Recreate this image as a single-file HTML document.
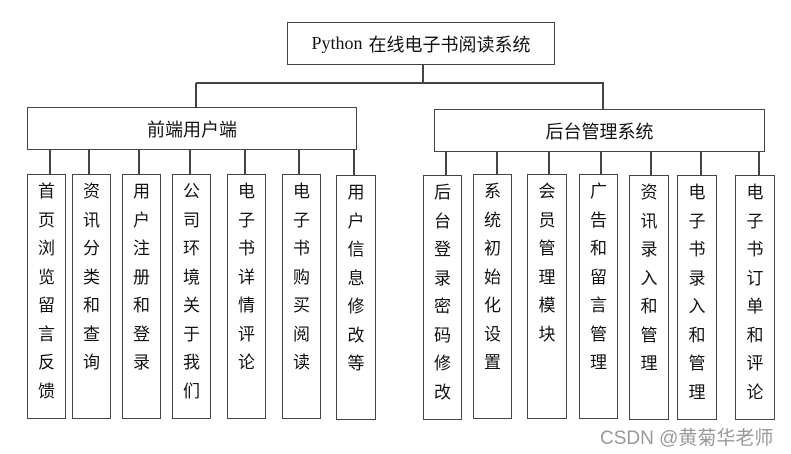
<!DOCTYPE html>
<html><head><meta charset="utf-8"><style>
body{margin:0;background:#fff;}
.c{position:relative;width:791px;height:454px;overflow:hidden;font-family:"Liberation Serif","Noto Sans CJK SC",sans-serif;color:#111;}
.b{position:absolute;border:1.5px solid #444;box-sizing:border-box;background:#fff;}
.h{display:flex;align-items:center;justify-content:center;font-size:18px;}
.v{font-size:17px;line-height:28.5px;text-align:center;padding-top:1px;font-family:"Noto Sans CJK SC",sans-serif;}
.l{position:absolute;background:#444;}
</style></head><body><div class="c">
<div class="b h" style="left:287px;top:22px;width:268px;height:43px;">Python <span style="font-family:'Noto Sans CJK SC',sans-serif;margin-left:6px">在线电子书阅读系统</span></div>
<div class="l" style="left:422px;top:64px;width:2px;height:20px"></div>
<div class="l" style="left:196px;top:82px;width:408px;height:2px"></div>
<div class="l" style="left:195px;top:83px;width:2px;height:25px"></div>
<div class="l" style="left:602px;top:83px;width:2px;height:27px"></div>
<div class="b h" style="left:27px;top:107px;width:330px;height:43px;font-family:'Noto Sans CJK SC',sans-serif">前端用户端</div>
<div class="b h" style="left:434px;top:109px;width:331px;height:43px;font-family:'Noto Sans CJK SC',sans-serif">后台管理系统</div>
<div class="l" style="left:49px;top:150px;width:2px;height:25px"></div>
<div class="l" style="left:88px;top:150px;width:2px;height:25px"></div>
<div class="l" style="left:138px;top:150px;width:2px;height:25px"></div>
<div class="l" style="left:189px;top:150px;width:2px;height:25px"></div>
<div class="l" style="left:244px;top:150px;width:2px;height:25px"></div>
<div class="l" style="left:298px;top:150px;width:2px;height:25px"></div>
<div class="l" style="left:353px;top:150px;width:2px;height:25px"></div>
<div class="l" style="left:445px;top:152px;width:2px;height:24px"></div>
<div class="l" style="left:496px;top:152px;width:2px;height:24px"></div>
<div class="l" style="left:548px;top:152px;width:2px;height:24px"></div>
<div class="l" style="left:600px;top:152px;width:2px;height:24px"></div>
<div class="l" style="left:650px;top:152px;width:2px;height:24px"></div>
<div class="l" style="left:700px;top:152px;width:2px;height:24px"></div>
<div class="l" style="left:758px;top:152px;width:2px;height:24px"></div>
<div class="b v" style="left:27px;top:174px;width:39px;height:245px">首<br>页<br>浏<br>览<br>留<br>言<br>反<br>馈</div>
<div class="b v" style="left:72px;top:174px;width:39px;height:245px">资<br>讯<br>分<br>类<br>和<br>查<br>询</div>
<div class="b v" style="left:122px;top:174px;width:39px;height:245px">用<br>户<br>注<br>册<br>和<br>登<br>录</div>
<div class="b v" style="left:172px;top:174px;width:39px;height:245px">公<br>司<br>环<br>境<br>关<br>于<br>我<br>们</div>
<div class="b v" style="left:227px;top:174px;width:39px;height:245px">电<br>子<br>书<br>详<br>情<br>评<br>论</div>
<div class="b v" style="left:282px;top:174px;width:39px;height:245px">电<br>子<br>书<br>购<br>买<br>阅<br>读</div>
<div class="b v" style="left:336px;top:175px;width:40px;height:245px">用<br>户<br>信<br>息<br>修<br>改<br>等</div>
<div class="b v" style="left:423px;top:175px;width:39px;height:245px">后<br>台<br>登<br>录<br>密<br>码<br>修<br>改</div>
<div class="b v" style="left:473px;top:174px;width:39px;height:245px">系<br>统<br>初<br>始<br>化<br>设<br>置</div>
<div class="b v" style="left:527px;top:174px;width:40px;height:245px">会<br>员<br>管<br>理<br>模<br>块</div>
<div class="b v" style="left:579px;top:174px;width:39px;height:245px">广<br>告<br>和<br>留<br>言<br>管<br>理</div>
<div class="b v" style="left:629px;top:175px;width:40px;height:245px">资<br>讯<br>录<br>入<br>和<br>管<br>理</div>
<div class="b v" style="left:677px;top:175px;width:40px;height:245px">电<br>子<br>书<br>录<br>入<br>和<br>管<br>理</div>
<div class="b v" style="left:735px;top:175px;width:40px;height:245px">电<br>子<br>书<br>订<br>单<br>和<br>评<br>论</div>
<div style="position:absolute;left:600px;top:423px;font-size:19px;color:#999;font-family:'Liberation Sans','Noto Sans CJK SC',sans-serif;white-space:nowrap">CSDN @黄菊华老师</div>
</div></body></html>
